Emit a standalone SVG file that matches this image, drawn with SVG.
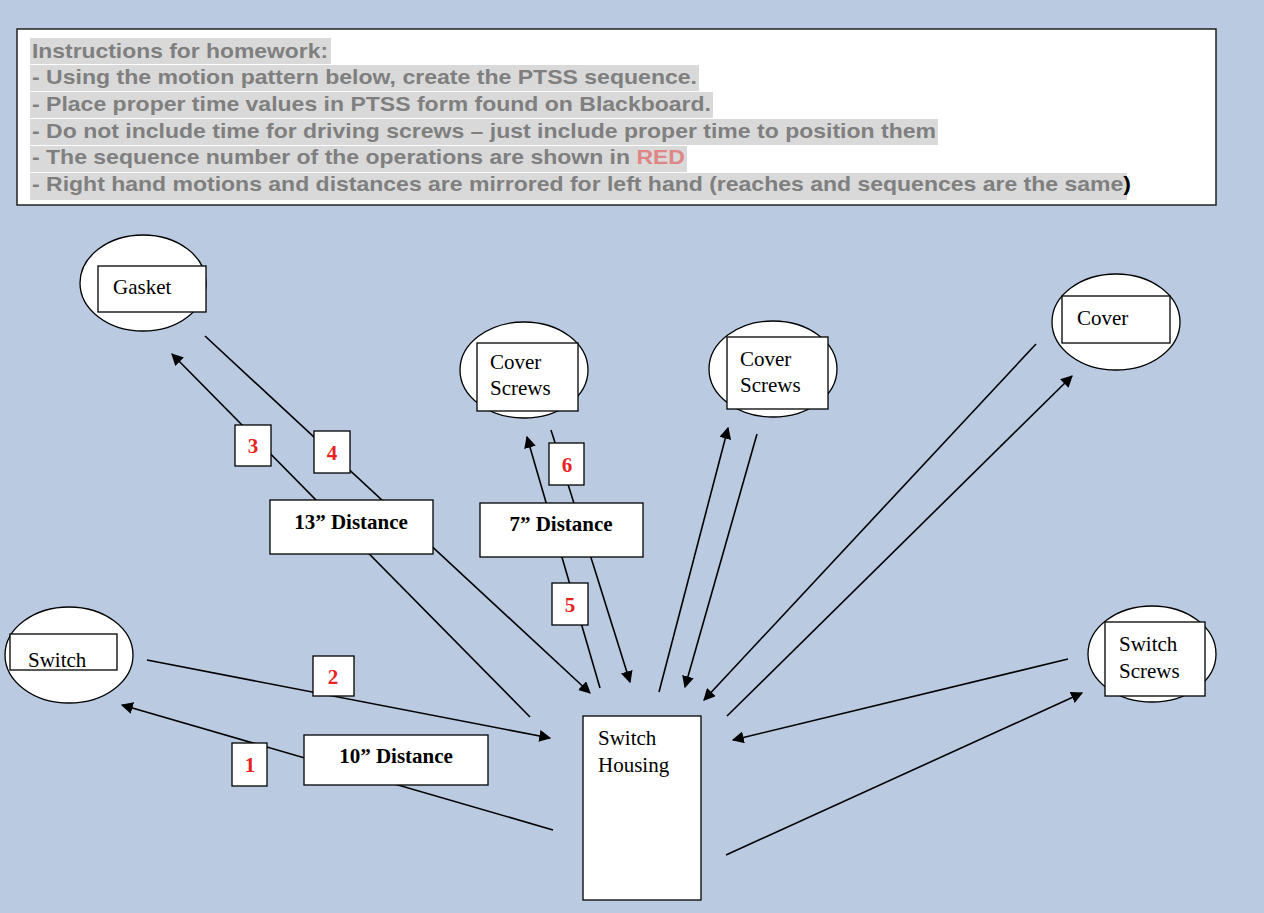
<svg xmlns="http://www.w3.org/2000/svg" width="1264" height="913" viewBox="0 0 1264 913">
<defs>
<marker id="ah" viewBox="0 0 10 10" refX="9" refY="5" markerWidth="12" markerHeight="12" markerUnits="userSpaceOnUse" orient="auto"><path d="M0,0 L10,5 L0,10 z" fill="#000"/></marker>
<clipPath id="swc"><rect x="10" y="634" width="107" height="36"/></clipPath>
</defs>
<style>
.ins{font-family:"Liberation Sans",Arial,sans-serif;font-weight:bold;font-size:21px;fill:#7f7f7f}
.hl{fill:#d9d9d9}
.el{fill:#fff;stroke:#000;stroke-width:1.3}
.bx{fill:#fff;stroke:#000;stroke-width:1.3}
.t{font-family:"Liberation Serif","Times New Roman",serif;font-size:21px;fill:#000}
.d{font-family:"Liberation Serif","Times New Roman",serif;font-size:21px;font-weight:bold;fill:#000;text-anchor:middle}
.n{font-family:"Liberation Serif","Times New Roman",serif;font-size:21px;font-weight:bold;fill:#e8231f;text-anchor:middle}
.c{stroke:#000;stroke-width:1.6;fill:none}
</style>
<rect width="1264" height="913" fill="#b9cae1"/>
<g id="instructions">
<rect x="17" y="29" width="1199" height="176" fill="#fff" stroke="#222" stroke-width="1.5"/>
<rect class="hl" x="30" y="38" width="301" height="26"/>
<rect class="hl" x="30" y="65" width="669" height="26"/>
<rect class="hl" x="30" y="92" width="683" height="26"/>
<rect class="hl" x="30" y="119" width="908" height="26"/>
<rect class="hl" x="30" y="146" width="657" height="26"/>
<rect class="hl" x="30" y="173" width="1097" height="27"/>
<text class="ins" x="32" y="58" textLength="296" lengthAdjust="spacingAndGlyphs">Instructions for homework:</text>
<text class="ins" x="32" y="84" textLength="665" lengthAdjust="spacingAndGlyphs">- Using the motion pattern below, create the PTSS sequence.</text>
<text class="ins" x="32" y="111" textLength="679" lengthAdjust="spacingAndGlyphs">- Place proper time values in PTSS form found on Blackboard.</text>
<text class="ins" x="32" y="138" textLength="904" lengthAdjust="spacingAndGlyphs">- Do not include time for driving screws – just include proper time to position them</text>
<text class="ins" x="32" y="164" textLength="653" lengthAdjust="spacingAndGlyphs">- The sequence number of the operations are shown in <tspan fill="#e08585">RED</tspan></text>
<text class="ins" x="32" y="191" textLength="1099" lengthAdjust="spacingAndGlyphs">- Right hand motions and distances are mirrored for left hand (reaches and sequences are the same<tspan fill="#000">)</tspan></text>
</g>
<g id="connectors">
<line class="c" x1="553" y1="830" x2="122" y2="705" marker-end="url(#ah)"/>
<line class="c" x1="147" y1="660" x2="550" y2="738" marker-end="url(#ah)"/>
<line class="c" x1="530" y1="717" x2="172" y2="354" marker-end="url(#ah)"/>
<line class="c" x1="205" y1="336" x2="590" y2="693" marker-end="url(#ah)"/>
<line class="c" x1="600" y1="688" x2="527" y2="437" marker-end="url(#ah)"/>
<line class="c" x1="551" y1="430" x2="630" y2="682" marker-end="url(#ah)"/>
<line class="c" x1="659" y1="692" x2="728" y2="428" marker-end="url(#ah)"/>
<line class="c" x1="757" y1="434" x2="685" y2="687" marker-end="url(#ah)"/>
<line class="c" x1="1036" y1="344" x2="704" y2="700" marker-end="url(#ah)"/>
<line class="c" x1="727" y1="716" x2="1072" y2="376" marker-end="url(#ah)"/>
<line class="c" x1="1068" y1="659" x2="733" y2="740" marker-end="url(#ah)"/>
<line class="c" x1="726" y1="855" x2="1082" y2="693" marker-end="url(#ah)"/>
</g>
<g id="gasket"><ellipse class="el" cx="143" cy="283" rx="63" ry="48"/><rect class="bx" x="98" y="266" width="108" height="46"/><text class="t" x="113" y="294">Gasket</text></g>
<g id="cover-screws-left"><ellipse class="el" cx="524" cy="370" rx="64" ry="48"/><rect class="bx" x="477" y="343" width="101" height="68"/><text class="t" x="490" y="369">Cover</text><text class="t" x="490" y="395">Screws</text></g>
<g id="cover-screws-right"><ellipse class="el" cx="773" cy="369" rx="64" ry="48"/><rect class="bx" x="727" y="337" width="101" height="72"/><text class="t" x="740" y="366">Cover</text><text class="t" x="740" y="392">Screws</text></g>
<g id="cover"><ellipse class="el" cx="1116" cy="322" rx="64" ry="48"/><rect class="bx" x="1062" y="296" width="108" height="47"/><text class="t" x="1077" y="325">Cover</text></g>
<g id="switch"><ellipse class="el" cx="69" cy="655" rx="64" ry="48"/><rect class="bx" x="10" y="634" width="107" height="36"/><text class="t" x="28" y="667" clip-path="url(#swc)">Switch</text></g>
<g id="switch-screws"><ellipse class="el" cx="1152" cy="654" rx="64" ry="48"/><rect class="bx" x="1105" y="622" width="100" height="74"/><text class="t" x="1119" y="651">Switch</text><text class="t" x="1119" y="678">Screws</text></g>
<g id="switch-housing"><rect class="bx" x="583" y="716" width="118" height="184"/><text class="t" x="598" y="745">Switch</text><text class="t" x="598" y="772">Housing</text></g>
<g id="dist-13"><rect class="bx" x="270" y="500" width="163" height="54"/><text class="d" x="351" y="529">13” Distance</text></g>
<g id="dist-7"><rect class="bx" x="480" y="503" width="163" height="54"/><text class="d" x="561" y="531">7” Distance</text></g>
<g id="dist-10"><rect class="bx" x="304" y="735" width="184" height="50"/><text class="d" x="396" y="763">10” Distance</text></g>
<g id="num-1"><rect class="bx" x="232" y="743" width="35" height="43"/><text class="n" x="250" y="772">1</text></g>
<g id="num-2"><rect class="bx" x="313" y="656" width="41" height="40"/><text class="n" x="333" y="684">2</text></g>
<g id="num-3"><rect class="bx" x="235" y="425" width="36" height="41"/><text class="n" x="253" y="453">3</text></g>
<g id="num-4"><rect class="bx" x="314" y="431" width="36" height="42"/><text class="n" x="332" y="460">4</text></g>
<g id="num-5"><rect class="bx" x="552" y="583" width="36" height="42"/><text class="n" x="570" y="612">5</text></g>
<g id="num-6"><rect class="bx" x="549" y="443" width="35" height="42"/><text class="n" x="567" y="472">6</text></g>
</svg>
